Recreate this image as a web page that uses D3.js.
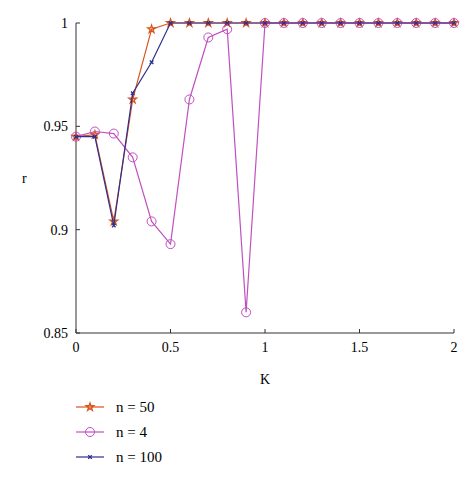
<!DOCTYPE html><html><head><script src="https://cdn.jsdelivr.net/npm/d3@7"></script>
<style>body{margin:0;background:#fff}text{font-family:"Liberation Serif",serif}</style></head><body><svg width="474" height="479"></svg><script>
const K=d3.range(21).map(i=>+(i/10).toFixed(1));
const n50=[0.945,0.946,0.904,0.963,0.997,1,1,1,1,1,1,1,1,1,1,1,1,1,1,1,1];
const n4=[0.945,0.9475,0.9465,0.935,0.904,0.893,0.963,0.993,0.997,0.86,1,1,1,1,1,1,1,1,1,1,1];
const n100=[0.945,0.945,0.902,0.966,0.981,1,1,1,1,1,1,1,1,1,1,1,1,1,1,1,1];
const xTicks=[0,0.5,1,1.5,2], yTicks=[0.85,0.9,0.95,1];
const svg=d3.select("svg");
const x=d3.scaleLinear().domain([0,2]).range([76,454]);
const y=d3.scaleLinear().domain([0.85,1]).range([333,23]);
const g=svg.append("g");
g.append("line").attr("x1",76).attr("x2",76).attr("y1",23).attr("y2",333).attr("stroke","#333");
g.append("line").attr("x1",76).attr("x2",454).attr("y1",333).attr("y2",333).attr("stroke","#333");
xTicks.forEach(t=>{g.append("line").attr("x1",x(t)).attr("x2",x(t)).attr("y1",333).attr("y2",329).attr("stroke","#333");
g.append("text").attr("x",x(t)).attr("y",352).attr("text-anchor","middle").attr("font-size",14).text(t)});
yTicks.forEach(t=>{g.append("line").attr("x1",76).attr("x2",80).attr("y1",y(t)).attr("y2",y(t)).attr("stroke","#333");
g.append("text").attr("x",68).attr("y",y(t)+5).attr("text-anchor","end").attr("font-size",14).text(t)});
svg.append("text").attr("x",265).attr("y",384).attr("text-anchor","middle").attr("font-size",14).text("K");
svg.append("text").attr("x",22).attr("y",183).attr("font-size",14).text("r");
const series=[{n:"n = 50",v:n50,c:"#d9541a",m:"star"},{n:"n = 4",v:n4,c:"#c050c0",m:"circle"},{n:"n = 100",v:n100,c:"#2e2e90",m:"x"}];
const line=d3.line().x((d,i)=>x(K[i])).y(d=>y(d));
function marker(sel,m,c,px,py){
 if(m=="circle") sel.append("circle").attr("cx",px).attr("cy",py).attr("r",4.5).attr("fill","none").attr("stroke",c);
 else if(m=="star") sel.append("path").attr("d",d3.symbol(d3.symbolStar,18)()).attr("transform",`translate(${px},${py})`).attr("fill","none").attr("stroke",c).attr("stroke-width",1.3);
 else sel.append("path").attr("d",d3.symbol(d3.symbolX,10)()).attr("transform",`translate(${px},${py})`).attr("stroke",c).attr("stroke-width",1.3);
}
series.forEach(s=>{
 svg.append("path").attr("d",line(s.v)).attr("fill","none").attr("stroke",s.c).attr("stroke-width",1.2);
 s.v.forEach((d,i)=>marker(svg,s.m,s.c,x(K[i]),y(d)));
});
series.forEach((s,i)=>{const yy=407+i*25;
 svg.append("line").attr("x1",76).attr("x2",104).attr("y1",yy).attr("y2",yy).attr("stroke",s.c).attr("stroke-width",1.2);
 marker(svg,s.m,s.c,90,yy);
 svg.append("text").attr("x",116).attr("y",yy+5).attr("font-size",15).text(s.n);
});
</script></body></html>
